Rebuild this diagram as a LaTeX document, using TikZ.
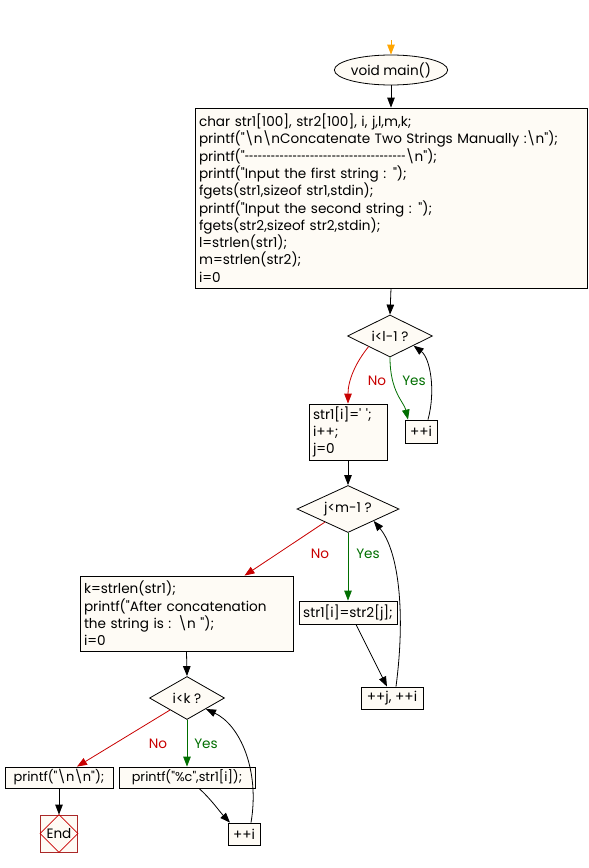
\documentclass[tikz,border=0pt]{standalone}
\usepackage{fontspec}
\usepackage{graphicx}
\setmainfont{Poppins}[Ligatures=TeXOff]
\usetikzlibrary{shapes.geometric,arrows.meta,calc}
\definecolor{cream}{RGB}{254,251,245}
\definecolor{nored}{RGB}{200,0,0}
\definecolor{yesgreen}{RGB}{0,110,0}
\definecolor{endred}{RGB}{170,40,40}
\definecolor{startor}{RGB}{255,165,0}
\begin{document}
\begin{tikzpicture}[x=1pt,y=-1pt,
  every node/.style={font=\fontsize{13.6}{17.3}\selectfont},
  arr/.style={draw=black,line width=0.8pt,-{Triangle[length=10pt,width=7.5pt]}},
  noarr/.style={arr,draw=nored,-{Triangle[length=10pt,width=7.5pt,fill=nored]},color=nored},
  yesarr/.style={arr,draw=yesgreen,color=yesgreen,-{Triangle[length=10pt,width=7.5pt,fill=yesgreen]}},
  box/.style={draw,line width=0.8pt,fill=cream,inner xsep=4pt,inner ysep=0pt,align=left,anchor=center},
  sbox/.style={box,inner xsep=1pt,align=center},
  dec/.style={draw,line width=0.8pt,fill=cream,diamond,inner sep=0pt,aspect=2},
  nolbl/.style={text=nored},
  yeslbl/.style={text=yesgreen}]
\useasboundingbox (0,0) rectangle (589,868);
\node[draw,line width=0.8pt,fill=cream,ellipse,inner sep=0pt,minimum width=103pt,minimum height=30pt] (start) at (391,70) {void main()};
\coordinate (top) at (391,40);
\node[box,text width=384pt,minimum height=180pt] (b1) at (391,198) {char str1[100], str2[100], i, j,l,m,k;\\
printf("\textbackslash n\textbackslash nConcatenate Two Strings Manually :\textbackslash n");\\
printf("\scalebox{0.58}[1]{-------------------------------------}\textbackslash n");\\
printf("Input the first string : ");\\
fgets(str1,sizeof str1,stdin);\\
printf("Input the second string : ");\\
fgets(str2,sizeof str2,stdin);\\
l=strlen(str1);\\
m=strlen(str2);\\
i=0};
\node[dec,minimum width=85pt,minimum height=42pt] (d1) at (390,336) {i<l-1 ?};
\node[box,text width=70pt,minimum height=56pt] (b2) at (348,432) {str1[i]=' ';\\i++;\\j=0};
\node[sbox,minimum width=32pt,minimum height=23pt] (inc1) at (421,431.5) {++i};
\node[dec,minimum width=102pt,minimum height=47pt] (d2) at (348,509) {j<m-1 ?};
\node[sbox,minimum width=98pt,minimum height=23pt] (s) at (348,612.5) {str1[i]=str2[j];};
\node[sbox,minimum width=62pt,minimum height=22pt] (incj) at (392,698) {++j, ++i};
\node[box,text width=205pt,minimum height=75pt] (b3) at (186.5,613.5) {k=strlen(str1);\\printf("After concatenation\\the string is : \textbackslash n ");\\i=0};
\node[dec,minimum width=75pt,minimum height=43pt] (d3) at (187,698) {i<k ?};
\node[sbox,minimum width=108pt,minimum height=21pt,font=\fontsize{13}{16}\selectfont] (p1) at (59,777.5) {printf("\textbackslash n\textbackslash n");};
\node[sbox,minimum width=136pt,minimum height=21pt,font=\fontsize{12.8}{16}\selectfont] (p2) at (187,777.5) {printf("\%c",str1[i]);};
\node[sbox,minimum width=32pt,minimum height=22pt] (inc3) at (244,834) {++i};
\node[draw=endred,line width=0.8pt,fill=cream,minimum size=37pt,inner sep=0pt] (end) at (59,833.5) {};
\draw[nored,line width=0.6pt] (end.north) -- (end.east) -- (end.south) -- (end.west) -- cycle;
\node at (end.center) {End};
% labels
\node[nolbl] (l1) at (377,381) {No};
\node[yeslbl] (l2) at (414,381) {Yes};
\node[nolbl] (l3) at (320,554) {No};
\node[yeslbl] (l4) at (368,554) {Yes};
\node[nolbl] (l5) at (158,744) {No};
\node[yeslbl] (l6) at (206,744) {Yes};
% connectors
\draw[arr,draw=startor,-{Triangle[length=10pt,width=7.5pt,fill=startor]}] (top) -- (start.north);
\draw[arr] (start.south) -- (b1.north);
\draw[arr] (b1.south) -- (d1.north);
\draw[noarr] ($(d1.west)!0.5!(d1.south)$) .. controls (356,362) and (348,380) .. ([xshift=0pt]b2.north);
\draw[yesarr] (d1.south) .. controls (390,392) and (404,402) .. ([xshift=-13pt]inc1.north);
\draw[arr] ([xshift=7pt]inc1.north) .. controls (436,390) and (430,358) .. ($(d1.east)!0.45!(d1.south)$);
\draw[arr] (b2.south) -- (d2.north);
\draw[noarr] ($(d2.west)!0.55!(d2.south)$) -- ([xshift=58pt]b3.north);
\draw[yesarr] (d2.south) -- (s.north);
\draw[arr] ([xshift=8pt]s.south) -- ([xshift=-5pt]incj.north);
\draw[arr] ([xshift=4pt]incj.north) .. controls (406,610) and (398,550) .. ($(d2.east)!0.5!(d2.south)$);
\draw[arr] (b3.south) -- (d3.north);
\draw[noarr] ($(d3.west)!0.55!(d3.south)$) -- ([xshift=18pt]p1.north);
\draw[yesarr] (d3.south) -- (p2.north);
\draw[arr] ([xshift=12pt]p2.south) .. controls (210,798) and (220,812) .. ([xshift=-14pt]inc3.north);
\draw[arr] ([xshift=7pt]inc3.north) .. controls (260,770) and (240,725) .. ($(d3.east)!0.5!(d3.south)$);
\draw[arr] (p1.south) -- (end.north);
\end{tikzpicture}
\end{document}
